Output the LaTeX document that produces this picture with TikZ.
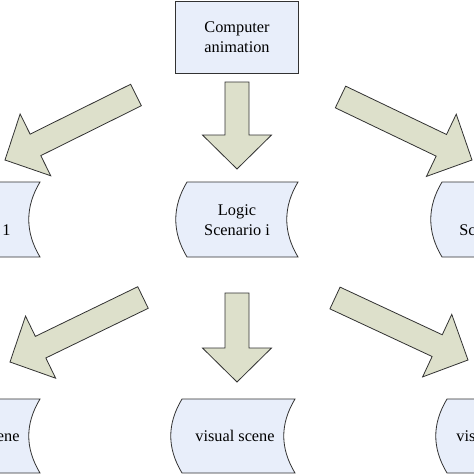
\documentclass[tikz,border=0pt]{standalone}
\usepackage{fontspec}
\setmainfont{Liberation Serif}
\usetikzlibrary{calc}
\definecolor{boxfill}{RGB}{232,238,250}
\definecolor{arrfill}{RGB}{221,224,203}
\definecolor{edge}{RGB}{50,50,50}
\tikzset{
  shapeline/.style={draw=edge, line width=0.8pt, line join=miter},
  boxshape/.style={shapeline, fill=boxfill},
  arrshape/.style={shapeline, fill=arrfill},
  label/.style={font=\fontsize{16.3}{19.5}\selectfont, align=center, text=black, inner sep=0pt},
}
% stored-data shape: #1 left x, #2 right x, #3 top y, #4 bottom y
\newcommand{\scnshape}[4]{%
  \path[boxshape] (#1,#3) -- (#2,#3)
    .. controls (#2-15,#3+25) and (#2-15,#4-25) .. (#2,#4)
    -- (#1,#4)
    .. controls (#1-15,#4-25) and (#1-15,#3+25) .. (#1,#3) -- cycle;}
% block arrow from tail coordinate #1 to tip coordinate #2
\newcommand{\blkarrow}[2]{%
  \coordinate (h) at ($(#2)!34pt!(#1)$);
  \path[arrshape]
    ($(#1)!12pt!90:(#2)$) -- ($(h)!12pt!90:(#2)$) -- ($(h)!34.5pt!90:(#2)$)
    -- (#2) -- ($(h)!34.5pt!-90:(#2)$) -- ($(h)!12pt!-90:(#2)$)
    -- ($(#1)!12pt!-90:(#2)$) -- cycle;}
\begin{document}
\begin{tikzpicture}[x=1pt,y=-1pt]
\useasboundingbox (0,0) rectangle (474,474);
\fill[white] (0,0) rectangle (474,474);

% top box
\path[boxshape] (175,1) rectangle (298,73);
\node[label] (ca) at (237,37) {Computer\\animation};

% logic scenario row
\scnshape{-71}{40}{182}{257}
\scnshape{187}{298}{182}{257}
\scnshape{442}{553}{182}{257}
\node[label] (ls1) at (-24,220) {Logic\\Scenario 1};
\node[label] (lsi) at (237,220) {Logic\\Scenario i};
\node[label] (lsn) at (494,220) {Logic\\Scenario n};

% visual scene row
\scnshape{-73}{40}{399}{473}
\scnshape{182}{295}{399}{473}
\scnshape{447}{560}{399}{473}
\node[label] (vs1) at (-20,436) {visual scene};
\node[label] (vsi) at (235,436) {visual scene};
\node[label] (vsn) at (496,436) {visual scene};

% block arrows, first level
\coordinate (t1) at (136,95);   \coordinate (e1) at (5,160);
\coordinate (t2) at (237,82);   \coordinate (e2) at (237,169);
\coordinate (t3) at (340.5,97); \coordinate (e3) at (472,160);
\blkarrow{t1}{e1}
\blkarrow{t2}{e2}
\blkarrow{t3}{e3}

% block arrows, second level
\coordinate (t4) at (143,297.5); \coordinate (e4) at (10,362);
\coordinate (t5) at (237,293);   \coordinate (e5) at (237,382);
\coordinate (t6) at (335,298);   \coordinate (e6) at (468,360);
\blkarrow{t4}{e4}
\blkarrow{t5}{e5}
\blkarrow{t6}{e6}
\end{tikzpicture}
\end{document}
